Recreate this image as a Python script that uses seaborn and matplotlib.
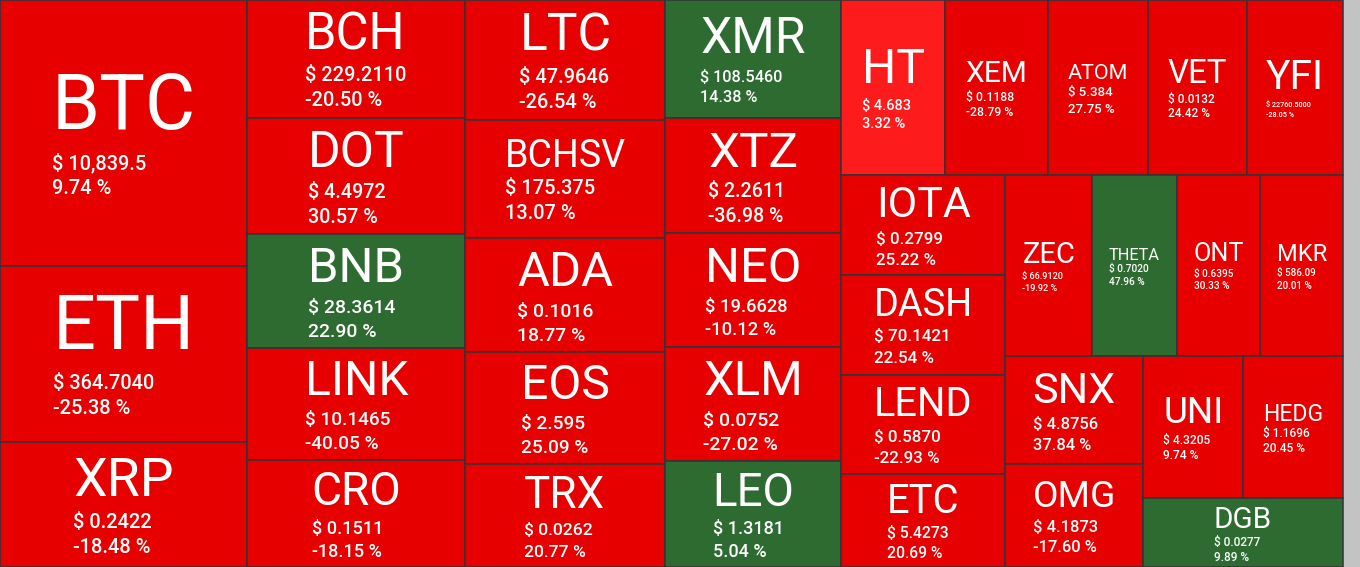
import numpy as np
import pandas as pd
import seaborn as sns
import matplotlib.pyplot as plt
from matplotlib.patches import Rectangle

# coins, in the order the treemap lays them out
symbols = ["BTC", "ETH", "XRP", "BCH", "DOT", "BNB", "LINK", "CRO",
           "LTC", "BCHSV", "ADA", "EOS", "TRX",
           "XMR", "XTZ", "NEO", "XLM", "LEO",
           "HT", "XEM", "ATOM", "VET", "YFI",
           "IOTA", "DASH", "LEND", "ETC",
           "ZEC", "THETA", "ONT", "MKR",
           "SNX", "OMG", "UNI", "HEDG", "DGB"]
prices = ["$ 10,839.5", "$ 364.7040", "$ 0.2422", "$ 229.2110", "$ 4.4972", "$ 28.3614", "$ 10.1465", "$ 0.1511",
          "$ 47.9646", "$ 175.375", "$ 0.1016", "$ 2.595", "$ 0.0262",
          "$ 108.5460", "$ 2.2611", "$ 19.6628", "$ 0.0752", "$ 1.3181",
          "$ 4.683", "$ 0.1188", "$ 5.384", "$ 0.0132", "$ 22760.5000",
          "$ 0.2799", "$ 70.1421", "$ 0.5870", "$ 5.4273",
          "$ 66.9120", "$ 0.7020", "$ 0.6395", "$ 586.09",
          "$ 4.8756", "$ 4.1873", "$ 4.3205", "$ 1.1696", "$ 0.0277"]
changes = ["9.74 %", "-25.38 %", "-18.48 %", "-20.50 %", "30.57 %", "22.90 %", "-40.05 %", "-18.15 %",
           "-26.54 %", "13.07 %", "18.77 %", "25.09 %", "20.77 %",
           "14.38 %", "-36.98 %", "-10.12 %", "-27.02 %", "5.04 %",
           "3.32 %", "-28.79 %", "27.75 %", "24.42 %", "-28.05 %",
           "25.22 %", "22.54 %", "-22.93 %", "20.69 %",
           "-19.92 %", "47.96 %", "30.33 %", "20.01 %",
           "37.84 %", "-17.60 %", "9.74 %", "20.45 %", "9.89 %"]
# tile weight
sizes = [65702, 43472, 30875, 25724, 25288, 24852, 24416, 23326,
         24000, 23600, 22800, 22400, 20600,
         20768, 20240, 20064, 20064, 18656,
         18200, 18025, 17500, 17325, 16800,
         16400, 16400, 16236, 15252,
         15747, 15385, 15023, 15023,
         14904, 14214, 14200, 14200, 13800]
groups = ["r", "r", "r", "r", "r", "g", "r", "r",
          "r", "r", "r", "r", "r",
          "g", "r", "r", "r", "g",
          "h", "r", "r", "r", "r",
          "r", "r", "r", "r",
          "r", "g", "r", "r",
          "r", "r", "r", "r", "g"]

palette = {"r": "#e60000", "g": "#2e6b31", "h": "#fd1b1b"}

W, H = 1343, 567
RATIO = 0.5 * (1 + 5 ** 0.5)


def worst(areas, fixed):
    s = sum(areas)
    f = fixed * fixed * RATIO
    return max(f * max(areas) / (s * s), (s * s) / (f * min(areas)))


def place(row, areas, fixed, rect, flush):
    x, y, w, h = rect
    horiz = fixed == w
    other = sum(areas[j] for j in row) / fixed
    span = h if horiz else w
    if flush or other > span:
        other = span
    last = x if horiz else y
    end = x + w if horiz else y + h
    out = []
    for k, j in enumerate(row):
        step = areas[j] / other
        remain = end - last
        if k == len(row) - 1 or remain < step:
            step = remain
        if horiz:
            out.append((j, last, y, step, other))
        else:
            out.append((j, x, last, other, step))
        last += step
    if horiz:
        rect = (x, y + other, w, h - other)
    else:
        rect = (x + other, y, w - other, h)
    return out, rect


def squarify(values, width, height):
    total = sum(values)
    areas = [v * width * height / total for v in values]
    rect = (0, 0, width, height)
    fixed = min(width, height)
    boxes, row, best, i = [], [], np.inf, 0
    while i < len(areas):
        row.append(i)
        score = worst([areas[j] for j in row], fixed)
        if score <= best:
            best = score
            i += 1
        else:
            row.pop()
            b, rect = place(row, areas, fixed, rect, False)
            boxes += b
            fixed = min(rect[2], rect[3])
            row, best = [], np.inf
    if row:
        b, rect = place(row, areas, fixed, rect, True)
        boxes += b
    return boxes


sns.set_theme(style="white")
plt.rcParams["font.family"] = ["Roboto", "DejaVu Sans"]

DPI = 100
fig = plt.figure(figsize=(13.6, 5.67), dpi=DPI, facecolor="#c3c3c3")
ax = fig.add_axes([0, 0, 1, 1])
ax.set_xlim(0, 1360)
ax.set_ylim(567, 0)
ax.axis("off")
renderer = fig.canvas.get_renderer()


def em_width(s, weight):
    t = ax.text(0, 0, s, fontsize=10, fontweight=weight)
    wpx = t.get_window_extent(renderer).width
    t.remove()
    return wpx / (10 * DPI / 72)


px2pt = 72 / DPI

for j, x, y, w, h in squarify(sizes, W, H):
    ax.add_patch(Rectangle((x, y), w, h, facecolor=palette[groups[j]],
                           edgecolor="#333333", linewidth=1.1))
    em_s = em_width(symbols[j], "normal")
    em_p = max(em_width(prices[j], "medium"), em_width(changes[j], "medium"))
    fs = min(0.43 * h, 0.6 * w / em_s, 77)
    fp = min(20, 0.47 * w / em_p, 0.17 * h)
    gap = 0.34 * fs
    block = 0.711 * fs + gap + 0.711 * fp + 1.25 * fp
    top = y + (h - block) / 2 + 1
    base_s = top + 0.711 * fs
    base_p = base_s + gap + 0.711 * fp
    base_c = base_p + 1.25 * fp
    bw = max(em_s * fs, em_p * fp)
    left = x + w / 2 - bw / 2
    ax.text(left, base_s, symbols[j], fontsize=fs * px2pt, color="white",
            ha="left", va="baseline")
    ax.text(left, base_p, prices[j], fontsize=fp * px2pt, color="white",
            fontweight="medium", ha="left", va="baseline")
    ax.text(left, base_c, changes[j], fontsize=fp * px2pt, color="white",
            fontweight="medium", ha="left", va="baseline")

fig.savefig("out.png", dpi=DPI, facecolor=fig.get_facecolor())
